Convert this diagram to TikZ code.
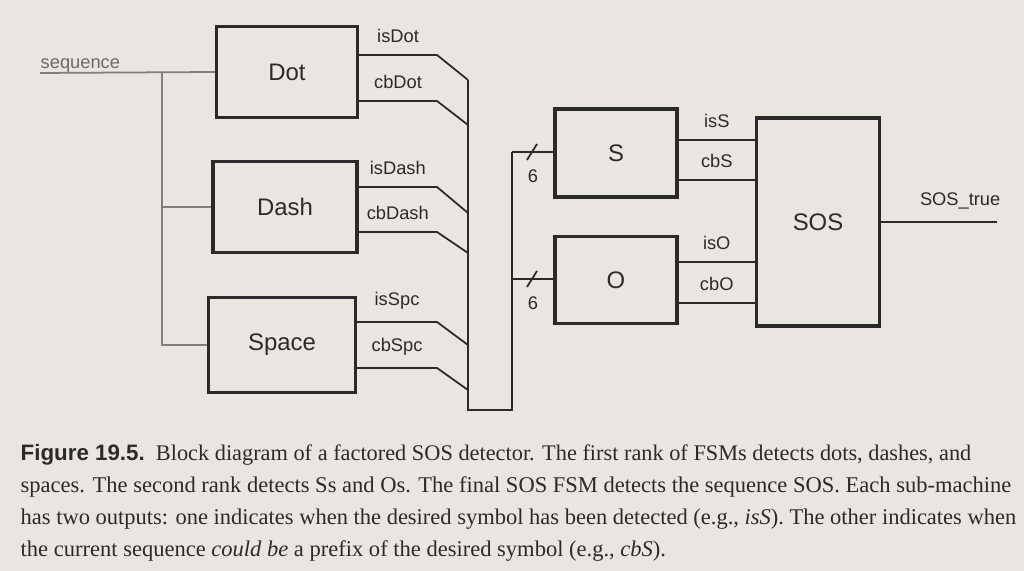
\documentclass[tikz,border=0pt]{standalone}
\usepackage{graphicx}
\usepackage{fontspec}
\setmainfont{Liberation Serif}
\newfontfamily\helv{Liberation Sans}
\definecolor{paper}{HTML}{E9E6E1}
\definecolor{ink}{HTML}{2A2A2A}
\begin{document}
\begin{tikzpicture}[x=0.01cm,y=-0.01cm,
  blk/.style={draw=ink,line width=0.9pt,font=\helv\fontsize{6.8}{8}\selectfont,text=ink},
  wire/.style={draw=ink,line width=0.5pt},
  wl/.style={font=\helv\fontsize{5.2}{6}\selectfont,text=ink,anchor=south},
  captxt/.style={anchor=base west,inner sep=0,text=ink,font=\fontsize{7.4}{9}\selectfont}]
\fill[paper] (0,0) rectangle (1024,571);
\useasboundingbox (0,0) rectangle (1024,571);
% blocks
\node[blk,minimum width=141*0.01cm,minimum height=91*0.01cm] (dot) at (287,72) {Dot};
\node[blk,minimum width=144*0.01cm,minimum height=91*0.01cm] (dash) at (285,207) {Dash};
\node[blk,minimum width=147*0.01cm,minimum height=95*0.01cm] (spc) at (282,345) {Space};
\node[blk,minimum width=122*0.01cm,minimum height=88*0.01cm] (s) at (616,153) {S};
\node[blk,minimum width=122*0.01cm,minimum height=87*0.01cm] (o) at (616,280) {O};
\node[blk,minimum width=123*0.01cm,minimum height=208*0.01cm] (sos) at (818,222) {SOS};
% sequence input
\node[wl,anchor=base west,inner sep=0,text=ink!70] (seq) at (40,69) {sequence};
\coordinate (sj) at (162,72);
\draw[wire,ink!60] (40,73) -- (dot.west);
\draw[wire,ink!60] (sj) |- (spc.west);
\draw[wire,ink!60] (162,207) -- (dash.west);
% bus
\coordinate (bt) at (468,80);
\coordinate (bb) at (512,410);
\draw[wire] (bt) -- (468,410) -- (bb) -- (512,152);
% outputs to bus
\foreach \b/\y/\yy/\n in {dot/55/80/isDot,dot/101/125/cbDot,dash/187/213/isDash,dash/232/253/cbDash,spc/322/345/isSpc,spc/368/390/cbSpc}{
  \draw[wire] (\b.east |- 0,\y) -- (437,\y) node[wl,midway,above=0pt] {\n} -- (468,\yy);
}
% bus to S and O
\draw[wire] (512,152) -- (s.west |- 0,152);
\draw[wire] (512,279) -- (o.west |- 0,279);
\foreach \y in {152,279}{
  \draw[wire] (527,\y+8) -- (537,\y-8);
  \node[wl,anchor=north] at (533,\y+5) {6};
}
% S,O outputs
\foreach \b/\y/\n in {s/140/isS,s/180/cbS,o/262/isO,o/303/cbO}{
  \draw[wire] (\b.east |- 0,\y) -- (sos.west |- 0,\y) node[wl,midway,above=0pt] {\n};
}
\draw[wire] (sos.east |- 0,222) -- (997,222) node[wl,midway,above=0pt,xshift=6pt] {SOS\_true};
% caption
\node[captxt] (c1) at (20,461) {\resizebox{9.5cm}{!}{{\helv\bfseries Figure 19.5.}\ \ Block diagram of a factored SOS detector. The first rank of FSMs detects dots, dashes, and}};
\node[captxt] (c2) at (20,493) {\resizebox{9.9cm}{!}{spaces. The second rank detects Ss and Os. The final SOS FSM detects the sequence SOS. Each sub-machine}};
\node[captxt] (c3) at (20,525) {\resizebox{9.95cm}{!}{has two outputs: one indicates when the desired symbol has been detected (e.g., \textit{isS}). The other indicates when}};
\node[captxt] (c4) at (20,557) {\resizebox{6.45cm}{!}{the current sequence \textit{could be} a prefix of the desired symbol (e.g., \textit{cbS}).}};
\end{tikzpicture}
\end{document}
